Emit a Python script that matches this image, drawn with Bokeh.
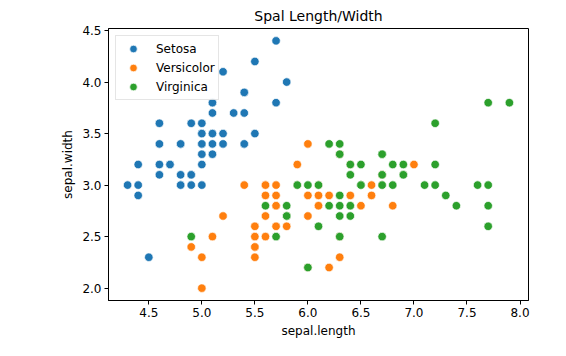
from bokeh.plotting import figure
from bokeh.models import ColumnDataSource, FixedTicker, PrintfTickFormatter, Range1d
from bokeh.embed import file_html
from bokeh.resources import INLINE

setosa_len = [5.1,4.9,4.7,4.6,5.0,5.4,4.6,5.0,4.4,4.9,5.4,4.8,4.8,4.3,5.8,5.7,5.4,5.1,5.7,5.1,
              5.4,5.1,4.6,5.1,4.8,5.0,5.0,5.2,5.2,4.7,4.8,5.4,5.2,5.5,4.9,5.0,5.5,4.9,4.4,5.1,
              5.0,4.5,4.4,5.0,5.1,4.8,5.1,4.6,5.3,5.0]
setosa_wid = [3.5,3.0,3.2,3.1,3.6,3.9,3.4,3.4,2.9,3.1,3.7,3.4,3.0,3.0,4.0,4.4,3.9,3.5,3.8,3.8,
              3.4,3.7,3.6,3.3,3.4,3.0,3.4,3.5,3.4,3.2,3.1,3.4,4.1,4.2,3.1,3.2,3.5,3.6,3.0,3.4,
              3.5,2.3,3.2,3.5,3.8,3.0,3.8,3.2,3.7,3.3]
versicolor_len = [7.0,6.4,6.9,5.5,6.5,5.7,6.3,4.9,6.6,5.2,5.0,5.9,6.0,6.1,5.6,6.7,5.6,5.8,6.2,5.6,
                  5.9,6.1,6.3,6.1,6.4,6.6,6.8,6.7,6.0,5.7,5.5,5.5,5.8,6.0,5.4,6.0,6.7,6.3,5.6,5.5,
                  5.5,6.1,5.8,5.0,5.6,5.7,5.7,6.2,5.1,5.7]
versicolor_wid = [3.2,3.2,3.1,2.3,2.8,2.8,3.3,2.4,2.9,2.7,2.0,3.0,2.2,2.9,2.9,3.1,3.0,2.7,2.2,2.5,
                  3.2,2.8,2.5,2.8,2.9,3.0,2.8,3.0,2.9,2.6,2.4,2.4,2.7,2.7,3.0,3.4,3.1,2.3,3.0,2.5,
                  2.6,3.0,2.6,2.3,2.7,3.0,2.9,2.9,2.5,2.8]
virginica_len = [6.3,5.8,7.1,6.3,6.5,7.6,4.9,7.3,6.7,7.2,6.5,6.4,6.8,5.7,5.8,6.4,6.5,7.7,7.7,6.0,
                 6.9,5.6,7.7,6.3,6.7,7.2,6.2,6.1,6.4,7.2,7.4,7.9,6.4,6.3,6.1,7.7,6.3,6.4,6.0,6.9,
                 6.7,6.9,5.8,6.8,6.7,6.7,6.3,6.5,6.2,5.9]
virginica_wid = [3.3,2.7,3.0,2.9,3.0,3.0,2.5,2.9,2.5,3.6,3.2,2.7,3.0,2.5,2.8,3.2,3.0,3.8,2.6,2.2,
                 3.2,2.8,2.8,2.7,3.3,3.2,2.8,3.0,2.8,3.0,2.8,3.8,2.8,2.8,2.6,3.0,3.4,3.1,3.0,3.1,
                 3.1,3.1,2.7,3.2,3.3,3.0,2.5,3.0,3.4,3.0]

species = ["Setosa", "Versicolor", "Virginica"]
colors = ["#1f77b4", "#ff7f0e", "#2ca02c"]
x_ticks = [4.5, 5.0, 5.5, 6.0, 6.5, 7.0, 7.5, 8.0]
y_ticks = [2.0, 2.5, 3.0, 3.5, 4.0, 4.5]

FONT = "DejaVu Sans"

p = figure(width=566, height=356, output_backend="svg", toolbar_location=None,
           title="Spal Length/Width",
           x_range=Range1d(4.12, 8.08), y_range=Range1d(1.88, 4.52),
           min_border_left=108, min_border_right=38, min_border_top=28, min_border_bottom=56)

datasets = [(setosa_len, setosa_wid), (versicolor_len, versicolor_wid), (virginica_len, virginica_wid)]
for name, color, (xs, ys) in zip(species, colors, datasets):
    src = ColumnDataSource(dict(x=xs, y=ys))
    p.scatter("x", "y", source=src, size=8.5, fill_color=color, line_color="white",
              line_width=0.7, legend_label=name)

p.title.align = "center"
p.title.text_font = FONT
p.title.text_font_size = "14px"
p.title.text_font_style = "normal"
p.title.text_color = "black"

p.xgrid.visible = False
p.ygrid.visible = False
p.outline_line_color = "black"
p.outline_line_width = 1
p.outline_line_alpha = 1

p.xaxis.ticker = FixedTicker(ticks=x_ticks)
p.yaxis.ticker = FixedTicker(ticks=y_ticks)
for ax in (p.xaxis, p.yaxis):
    ax.formatter = PrintfTickFormatter(format="%.1f")
    ax.major_tick_in = 0
    ax.major_tick_out = 4
    ax.minor_tick_line_color = None
    ax.major_label_text_font = FONT
    ax.major_label_text_font_size = "12px"
    ax.major_label_text_color = "black"
    ax.axis_label_text_font = FONT
    ax.axis_label_text_font_size = "12px"
    ax.axis_label_text_font_style = "normal"
    ax.axis_label_text_color = "black"
    ax.axis_line_color = "black"
    ax.major_tick_line_color = "black"
    ax.major_label_standoff = 3
    ax.axis_label_standoff = 4
p.xaxis.axis_label = "sepal.length"
p.yaxis.axis_label = "sepal.width"

lg = p.legend[0]
lg.location = "top_left"
lg.margin = 7
lg.padding = 3
lg.spacing = 0
lg.glyph_width = 28
lg.glyph_height = 19
lg.label_height = 18
lg.label_standoff = 9
lg.label_text_font = FONT
lg.label_text_font_size = "12px"
lg.label_text_color = "black"
lg.border_line_color = "#cccccc"
lg.border_line_width = 1
lg.background_fill_alpha = 0.8

open("out.html", "w").write(file_html(p, INLINE))
